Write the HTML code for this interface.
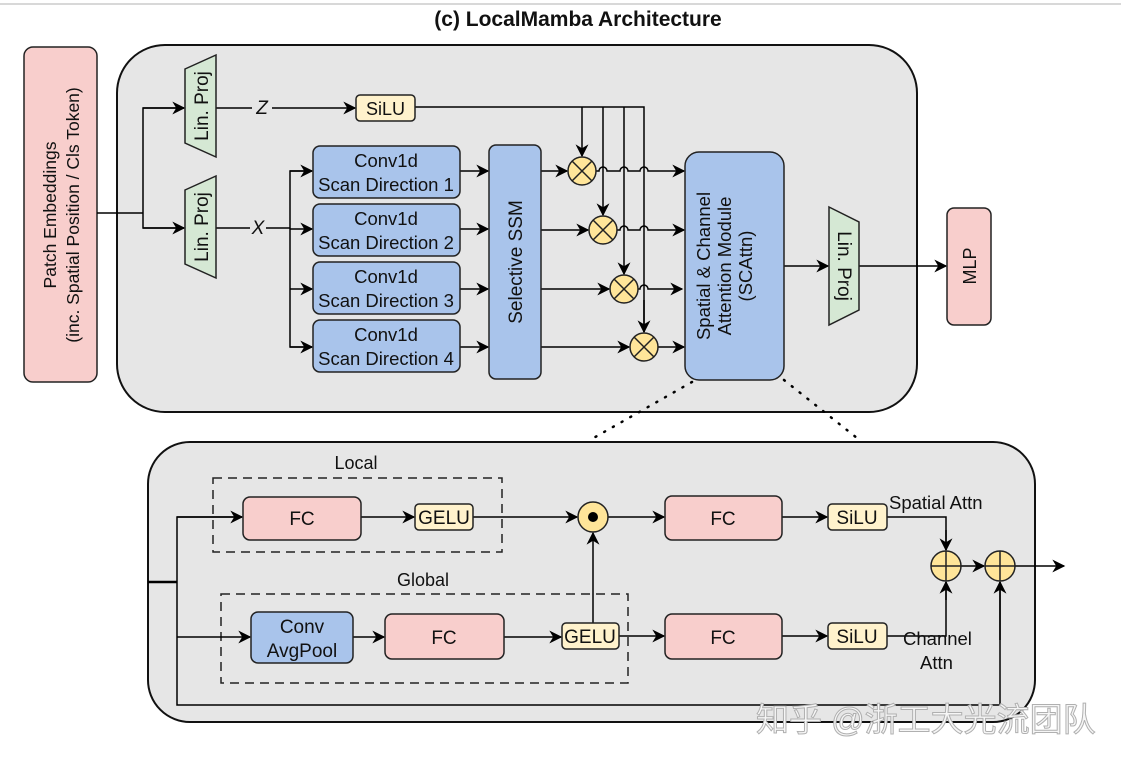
<!DOCTYPE html>
<html><head><meta charset="utf-8"><style>
html,body{margin:0;padding:0;background:#fff;width:1121px;height:766px;overflow:hidden}
svg text{font-family:"Liberation Sans","Noto Sans CJK SC",sans-serif;fill:#111}
</style></head><body>
<svg width="1121" height="766" viewBox="0 0 1121 766" xmlns="http://www.w3.org/2000/svg">
<defs>
<marker id="a" viewBox="0 0 10 10" refX="9" refY="5" markerWidth="13" markerHeight="13" markerUnits="userSpaceOnUse" orient="auto"><path d="M0,0 L10,5 L0,10 L3,5 z" fill="#000"/></marker>
</defs>
<line x1="0" y1="4" x2="1121" y2="4" stroke="#ccc" stroke-width="1.5"/>
<text x="578" y="26" font-size="21" font-weight="bold" text-anchor="middle">(c) LocalMamba Architecture</text>

<!-- top panel -->
<rect x="117" y="45" width="800" height="367" rx="48" fill="#e6e6e6" stroke="#111" stroke-width="2"/>
<rect x="24" y="47" width="73" height="335" rx="9" fill="#f8cecc" stroke="#222" stroke-width="1.5"/>
<text transform="translate(56,215) rotate(-90)" font-size="17.5" text-anchor="middle">Patch Embeddings</text>
<text transform="translate(79,215) rotate(-90)" font-size="17.5" text-anchor="middle">(inc. Spatial Position / Cls Token)</text>

<g stroke="#000" stroke-width="1.5" fill="none">
<polyline points="97,213 143,213"/>
<polyline points="184,108 143,108 143,228 184,228" />
<line x1="143" y1="108" x2="184" y2="108" marker-end="url(#a)"/>
<line x1="143" y1="228" x2="184" y2="228" marker-end="url(#a)"/>
<line x1="216" y1="108" x2="252" y2="108"/>
<line x1="272" y1="108" x2="355" y2="108" marker-end="url(#a)"/>
<line x1="216" y1="228" x2="250" y2="228"/>
<line x1="266" y1="228" x2="290" y2="228"/>
<polyline points="312,171 290,171 290,347 312,347"/>
<line x1="290" y1="171" x2="312" y2="171" marker-end="url(#a)"/>
<line x1="290" y1="229" x2="312" y2="229" marker-end="url(#a)"/>
<line x1="290" y1="289" x2="312" y2="289" marker-end="url(#a)"/>
<line x1="290" y1="347" x2="312" y2="347" marker-end="url(#a)"/>
<line x1="460" y1="171" x2="488" y2="171" marker-end="url(#a)"/>
<line x1="460" y1="229" x2="488" y2="229" marker-end="url(#a)"/>
<line x1="460" y1="289" x2="488" y2="289" marker-end="url(#a)"/>
<line x1="460" y1="347" x2="488" y2="347" marker-end="url(#a)"/>
<polyline points="415,107 644,107 644,332"/>
<line x1="582" y1="107" x2="582" y2="156" marker-end="url(#a)"/>
<line x1="603" y1="107" x2="603" y2="215" marker-end="url(#a)"/>
<line x1="624" y1="107" x2="624" y2="274" marker-end="url(#a)"/>
<line x1="644" y1="300" x2="644" y2="332" marker-end="url(#a)"/>
<line x1="541" y1="171" x2="567" y2="171" marker-end="url(#a)"/>
<line x1="541" y1="230" x2="588" y2="230" marker-end="url(#a)"/>
<line x1="541" y1="289" x2="609" y2="289" marker-end="url(#a)"/>
<line x1="541" y1="347" x2="629" y2="347" marker-end="url(#a)"/>
<path d="M596,171 L599,171 A4,4 0 0 1 607,171 L620,171 A4,4 0 0 1 628,171 L640,171 A4,4 0 0 1 648,171 L684,171" marker-end="url(#a)"/>
<path d="M617,230 L620,230 A4,4 0 0 1 628,230 L640,230 A4,4 0 0 1 648,230 L684,230" marker-end="url(#a)"/>
<path d="M638,289 L640,289 A4,4 0 0 1 648,289 L682,289" marker-end="url(#a)"/>
<line x1="658" y1="347" x2="684" y2="347" marker-end="url(#a)"/>
<line x1="784" y1="266" x2="828" y2="266" marker-end="url(#a)"/>
<line x1="859" y1="266" x2="946" y2="266" marker-end="url(#a)"/>
</g>
<text x="262" y="114" font-size="19" font-style="italic" text-anchor="middle">Z</text>
<text x="258" y="234" font-size="19" font-style="italic" text-anchor="middle">X</text>

<polygon points="185,69 216,55 216,157 185,143" fill="#d5e8d4" stroke="#222" stroke-width="1.5"/>
<text transform="translate(208,106) rotate(-90)" font-size="19" text-anchor="middle">Lin. Proj</text>
<polygon points="185,190 216,176 216,278 185,264" fill="#d5e8d4" stroke="#222" stroke-width="1.5"/>
<text transform="translate(208,227) rotate(-90)" font-size="19" text-anchor="middle">Lin. Proj</text>
<rect x="356" y="95" width="59" height="26" rx="4" fill="#fff2cc" stroke="#222" stroke-width="1.5"/>
<text x="385.5" y="115" font-size="18" text-anchor="middle">SiLU</text>

<g fill="#a9c4eb" stroke="#222" stroke-width="1.5">
<rect x="313" y="146" width="147" height="52" rx="7"/>
<rect x="313" y="204" width="147" height="52" rx="7"/>
<rect x="313" y="262" width="147" height="52" rx="7"/>
<rect x="313" y="320" width="147" height="52" rx="7"/>
<rect x="489" y="145" width="52" height="234" rx="7"/>
<rect x="685" y="152" width="99" height="228" rx="14"/>
</g>
<g font-size="18.5" text-anchor="middle">
<text x="386" y="167">Conv1d</text><text x="386" y="191">Scan Direction 1</text>
<text x="386" y="225">Conv1d</text><text x="386" y="249">Scan Direction 2</text>
<text x="386" y="283">Conv1d</text><text x="386" y="307">Scan Direction 3</text>
<text x="386" y="341">Conv1d</text><text x="386" y="365">Scan Direction 4</text>
</g>
<text transform="translate(522,262) rotate(-90)" font-size="19" text-anchor="middle">Selective SSM</text>
<text transform="translate(710,266) rotate(-90)" font-size="18.5" text-anchor="middle">Spatial &amp; Channel</text>
<text transform="translate(731,266) rotate(-90)" font-size="18.5" text-anchor="middle">Attention Module</text>
<text transform="translate(752,266) rotate(-90)" font-size="18.5" text-anchor="middle">(SCAttn)</text>

<g fill="#ffe599" stroke="#222" stroke-width="1.5">
<circle cx="582" cy="171" r="14"/><circle cx="603" cy="230" r="14"/><circle cx="624" cy="289" r="14"/><circle cx="644" cy="347" r="14"/>
</g>
<g stroke="#222" stroke-width="1.5">
<path d="M572,161 L592,181 M592,161 L572,181"/>
<path d="M593,220 L613,240 M613,220 L593,240"/>
<path d="M614,279 L634,299 M634,279 L614,299"/>
<path d="M634,337 L654,357 M654,337 L634,357"/>
</g>

<polygon points="829,207 859,222 859,310 829,325" fill="#d5e8d4" stroke="#222" stroke-width="1.5"/>
<text transform="translate(838,266) rotate(90)" font-size="19" text-anchor="middle">Lin. Proj</text>
<rect x="947" y="208" width="44" height="117" rx="7" fill="#f8cecc" stroke="#222" stroke-width="1.5"/>
<text transform="translate(976,266) rotate(-90)" font-size="18" text-anchor="middle">MLP</text>

<g stroke="#000" stroke-width="2.5" stroke-dasharray="1,9" stroke-linecap="round">
<line x1="692" y1="382" x2="590" y2="440"/>
<line x1="784" y1="380" x2="862" y2="442"/>
</g>

<!-- bottom panel -->
<rect x="148" y="442" width="887" height="280" rx="42" fill="#e6e6e6" stroke="#111" stroke-width="2"/>
<g stroke="#222" stroke-width="1.5" fill="none" stroke-dasharray="9,6">
<rect x="213" y="478" width="289" height="74"/>
<rect x="221" y="594" width="407" height="89"/>
</g>
<text x="356" y="469" font-size="18" text-anchor="middle">Local</text>
<text x="423" y="586" font-size="18" text-anchor="middle">Global</text>

<g stroke="#000" stroke-width="1.5" fill="none">
<line x1="148" y1="582" x2="177" y2="582" stroke-width="2.5"/>
<polyline points="242,517 177,517 177,705 1000,705 1000,582"/>
<line x1="177" y1="517" x2="242" y2="517" marker-end="url(#a)"/>
<line x1="177" y1="637" x2="250" y2="637" marker-end="url(#a)"/>
<line x1="1000" y1="640" x2="1000" y2="582" marker-end="url(#a)"/>
<line x1="361" y1="517" x2="414" y2="517" marker-end="url(#a)"/>
<line x1="473" y1="517" x2="577" y2="517" marker-end="url(#a)"/>
<line x1="608" y1="517" x2="664" y2="517" marker-end="url(#a)"/>
<line x1="782" y1="517" x2="827" y2="517" marker-end="url(#a)"/>
<line x1="353" y1="637" x2="384" y2="637" marker-end="url(#a)"/>
<line x1="504" y1="637" x2="561" y2="637" marker-end="url(#a)"/>
<line x1="593" y1="623" x2="593" y2="533" marker-end="url(#a)"/>
<line x1="619" y1="636" x2="664" y2="636" marker-end="url(#a)"/>
<line x1="782" y1="636" x2="827" y2="636" marker-end="url(#a)"/>
<polyline points="887,517 946,517 946,550"/>
<line x1="946" y1="530" x2="946" y2="550" marker-end="url(#a)"/>
<polyline points="887,636 946,636 946,582"/>
<line x1="946" y1="600" x2="946" y2="582" marker-end="url(#a)"/>
<line x1="961" y1="566" x2="984" y2="566" marker-end="url(#a)"/>
<line x1="1015" y1="566" x2="1064" y2="566" marker-end="url(#a)"/>
</g>

<g stroke="#222" stroke-width="1.5">
<rect x="243" y="497" width="118" height="43" rx="7" fill="#f8cecc"/>
<rect x="415" y="504" width="58" height="26" rx="4" fill="#fff2cc"/>
<rect x="251" y="612" width="102" height="51" rx="7" fill="#a9c4eb"/>
<rect x="385" y="614" width="119" height="45" rx="7" fill="#f8cecc"/>
<rect x="562" y="623" width="57" height="26" rx="4" fill="#fff2cc"/>
<rect x="665" y="496" width="117" height="44" rx="7" fill="#f8cecc"/>
<rect x="665" y="614" width="117" height="45" rx="7" fill="#f8cecc"/>
<rect x="828" y="504" width="59" height="26" rx="4" fill="#fff2cc"/>
<rect x="828" y="623" width="59" height="26" rx="4" fill="#fff2cc"/>
<circle cx="593" cy="517" r="15" fill="#ffe599"/>
<circle cx="946" cy="566" r="15" fill="#ffe599"/>
<circle cx="1000" cy="566" r="15" fill="#ffe599"/>
<path d="M931,566 H961 M946,551 V581 M985,566 H1015 M1000,551 V581" fill="none"/>
</g>
<circle cx="593" cy="517" r="5" fill="#000"/>
<g font-size="19" text-anchor="middle">
<text x="302" y="525">FC</text>
<text x="444" y="524">GELU</text>
<text x="302" y="633">Conv</text><text x="302" y="657">AvgPool</text>
<text x="444" y="644">FC</text>
<text x="590" y="643">GELU</text>
<text x="723" y="525">FC</text>
<text x="723" y="644">FC</text>
<text x="857" y="524">SiLU</text>
<text x="857" y="643">SiLU</text>
</g>
<text x="889" y="509" font-size="18.5">Spatial Attn</text>
<text x="903" y="645" font-size="18.5">Channel</text>
<text x="920" y="669" font-size="18.5">Attn</text>

<text x="756" y="731" font-size="33" fill="#fff" stroke="#b0b0b0" stroke-width="1" style="fill:#f6f6f6">知乎 @浙工大光流团队</text>
</svg>
</body></html>
